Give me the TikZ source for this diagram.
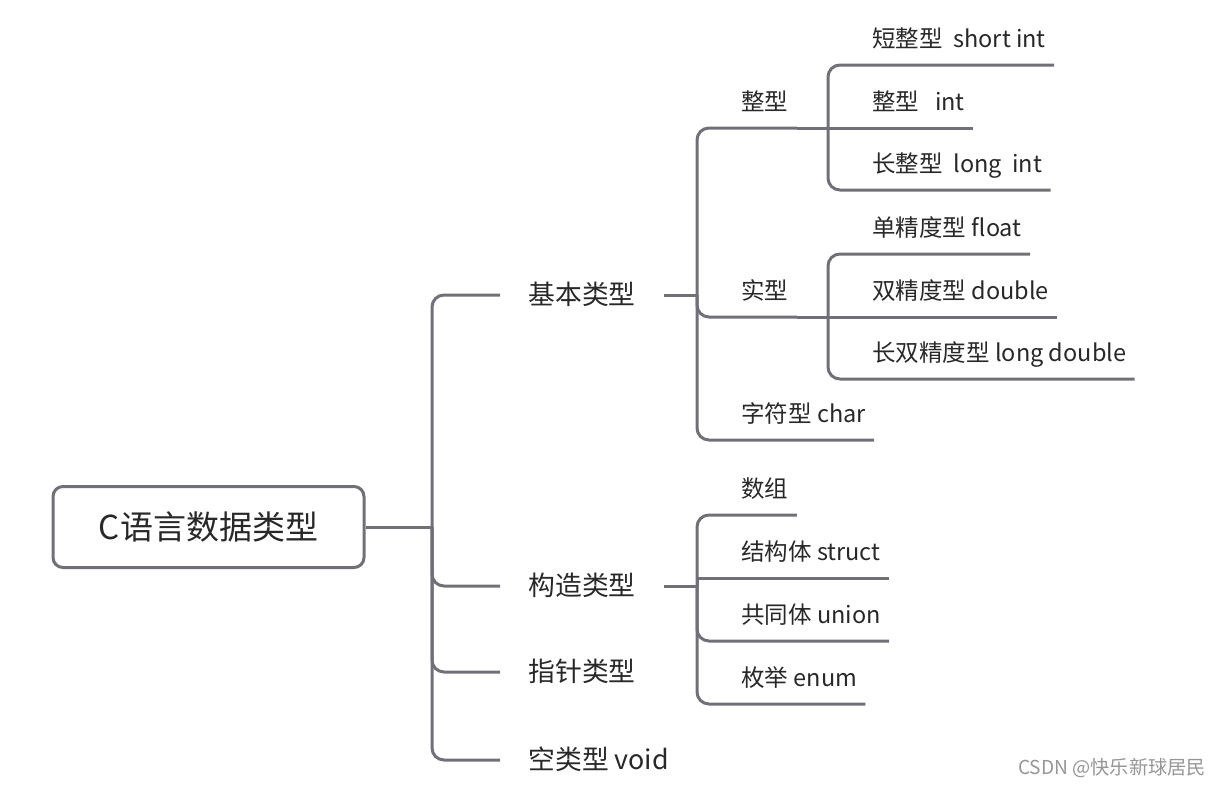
\documentclass[tikz,border=0pt]{standalone}
\usepackage{fontspec}
\setmainfont{Noto Sans CJK SC}
\usetikzlibrary{positioning,calc}
\definecolor{LineGray}{RGB}{112,112,120}
\definecolor{TextDark}{RGB}{40,40,40}
\definecolor{MarkGray}{RGB}{150,150,150}
\tikzset{
  link/.style={draw=LineGray,line width=1.5pt,rounded corners=6pt},
  root/.style={draw=LineGray,line width=1.5pt,rounded corners=5pt,fill=white,
    minimum width=155.5pt,minimum height=40.5pt,font=\fontsize{16.5}{20}\selectfont,text=TextDark},
  main/.style={anchor=west,inner xsep=14pt,inner ysep=0pt,text height=0.96em,text depth=0.04em,
    font=\fontsize{13.4}{16}\selectfont,text=TextDark},
}
\tikzset{sub/.style={anchor=south west,inner xsep=4pt,inner ysep=0pt,minimum height=26pt,
    text height=0.96em,text depth=0.04em,font=\fontsize{11.75}{14}\selectfont,text=TextDark},
  wmark/.style={font=\fontsize{9.6}{11}\selectfont,text=MarkGray}}

\begin{document}
\begin{tikzpicture}[x=0.5pt,y=-0.5pt]
\useasboundingbox (0,0) rectangle (1223,788);
% root and trunk
\node[root] (root) at (208.5,527) {C语言数据类型};
\coordinate (j0) at (432,527);
\draw[link] (root.east) -- (j0);
\node[main] (jb) at (500,295) {基本类型};
\node[main] (gz) at (500,586) {构造类型};
\node[main] (zz) at (500,672) {指针类型};
\node[main] (kl) at (500,760) {空类型 void};
\draw[link] (j0) |- (jb.west);
\draw[link] (j0) |- (gz.west);
\draw[link] (j0) |- (zz.west);
\draw[link] (j0) |- (kl.west);
% basic types
\coordinate (j1) at (697,295);
\draw[link] (jb.east) -- (j1);
\node[sub] (zx) at (733,128) {整型};
\node[sub] (sx) at (733,317) {实型};
\node[sub] (zf) at (733,440) {字符型 char};
\draw[link] (j1) |- (zx.south west) -- (zx.south east);
\draw[link] (j1) |- (sx.south west) -- (sx.south east);
\draw[link] (j1) |- (zf.south west) -- (zf.south east);
% integer types
\coordinate (j2) at (828,128);
\draw[link] (zx.south east) -- (j2);
\node[sub] (dz) at (864,65) {短整型\ \ short int};
\node[sub] (zi) at (864,128) {整型\ \ \ int};
\node[sub] (cz) at (864,190) {长整型\ \ long\ \ int};
\draw[link] (j2) |- (dz.south west) -- (dz.south east);
\draw[link] (j2) -- (zi.south west) -- (zi.south east);
\draw[link] (j2) |- (cz.south west) -- (cz.south east);
% real types
\coordinate (j3) at (828,317);
\draw[link] (sx.south east) -- (j3);
\node[sub] (fl) at (864,254) {单精度型 float};
\node[sub] (db) at (864,317) {双精度型 double};
\node[sub] (ld) at (864,379) {长双精度型 long double};
\draw[link] (j3) |- (fl.south west) -- (fl.south east);
\draw[link] (j3) -- (db.south west) -- (db.south east);
\draw[link] (j3) |- (ld.south west) -- (ld.south east);
% constructed types
\coordinate (j4) at (697,586);
\draw[link] (gz.east) -- (j4);
\node[sub] (sz) at (733,515) {数组};
\node[sub] (jg) at (733,578) {结构体 struct};
\node[sub] (gt) at (733,641) {共同体 union};
\node[sub] (mj) at (733,704) {枚举 enum};
\draw[link] (j4) |- (sz.south west) -- (sz.south east);
\draw[link,sharp corners] (j4) |- (jg.south west) -- (jg.south east);
\draw[link] (j4) |- (gt.south west) -- (gt.south east);
\draw[link] (j4) |- (mj.south west) -- (mj.south east);
\node[wmark] (wm) at (1112,768) {CSDN @快乐新球居民};
\end{tikzpicture}
\end{document}
